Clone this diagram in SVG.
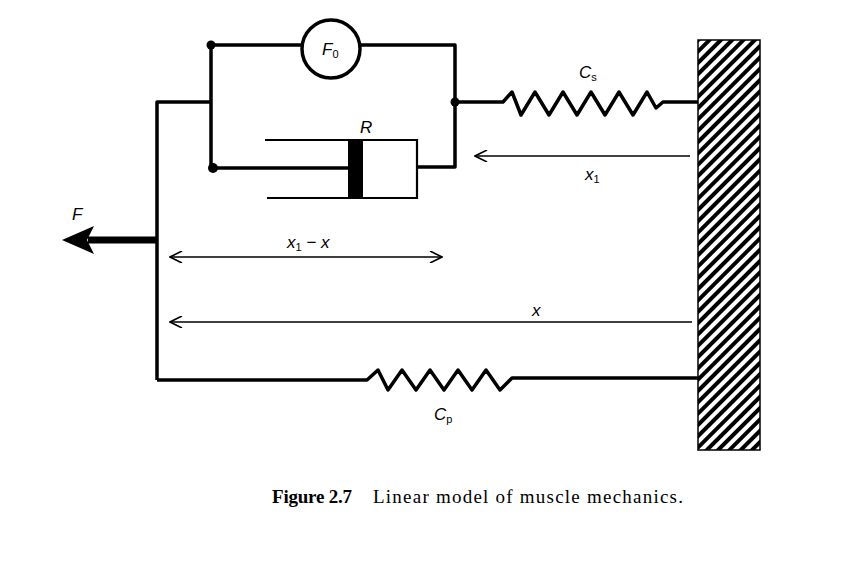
<svg xmlns="http://www.w3.org/2000/svg" width="857" height="565" viewBox="0 0 857 565">
<style>
.w{fill:none;stroke:#000;stroke-width:3.5;stroke-linejoin:round}
.t{fill:none;stroke:#000;stroke-width:1.6}
.lbl{font-family:"Liberation Sans",Arial,sans-serif;font-style:italic;font-size:17px;fill:#000}
.sub{font-size:11px;font-style:normal}
.cap{font-family:"Liberation Serif","Times New Roman",serif;font-size:19px;fill:#000}
</style>
<defs>
<pattern id="hatch" patternUnits="userSpaceOnUse" width="8" height="8" patternTransform="rotate(45)">
<rect width="8" height="8" fill="#fff"/><rect width="4" height="8" fill="#000"/>
</pattern>
<marker id="ah" markerWidth="14" markerHeight="12" refX="13" refY="6" orient="auto-start-reverse" markerUnits="userSpaceOnUse">
<path d="M1,0 L13,6 L1,12" fill="none" stroke="#000" stroke-width="1.6"/>
</marker>
</defs>
<rect width="857" height="565" fill="#fff"/>
<g id="wall"><rect x="698" y="40" width="62" height="410" fill="url(#hatch)" stroke="#000" stroke-width="1.5"/></g>
<g id="connectors">
<path class="w" d="M211,45 H301 M361,45 H455 V167 H417"/>
<path class="w" d="M211,45 V168 M157,380 V102 H211"/>
<path class="w" d="M213,168 H348"/>
<path class="w" d="M455,102 H503 L512,92 L521,115 L535,92 L549,115 L563,92 L577,115 L591,92 L605,115 L619,92 L633,115 L647,92 L656,108 L663,102 H698"/>
<path class="w" d="M157,380 H367 L378,370 L388,390 L402,370 L416,390 L430,370 L444,390 L458,370 L472,390 L486,370 L500,390 L512,378 H698"/>
<path d="M157,240 H88" stroke="#000" stroke-width="7" fill="none"/>
<path d="M62,240 L94,226 L87,240 L94,254 Z" fill="#000"/>
<path class="t" d="M690,156 H475" marker-end="url(#ah)"/>
<path class="t" d="M170,257 H442" marker-start="url(#ah)" marker-end="url(#ah)"/>
<path class="t" d="M692,322 H170" marker-end="url(#ah)"/>
</g>
<g id="dots">
<circle cx="211" cy="45" r="4.5"/><circle cx="213" cy="168" r="5"/><circle cx="455" cy="102" r="4.5"/>
</g>
<g id="F0"><circle cx="331" cy="49" r="29" fill="#fff" stroke="#000" stroke-width="3.5"/>
<text class="lbl" x="322" y="55">F<tspan class="sub" dy="3">0</tspan></text></g>
<g id="R">
<path d="M265,140 H417 V198 H267" fill="none" stroke="#000" stroke-width="2.2"/>
<rect x="348" y="140" width="15" height="58" fill="#000"/>
<text class="lbl" x="360" y="133">R</text>
</g>
<g id="labels">
<text class="lbl" x="579" y="78">C<tspan class="sub" dy="3">s</tspan></text>
<text class="lbl" x="585" y="180">x<tspan class="sub" dy="3">1</tspan></text>
<text class="lbl" x="72" y="220">F</text>
<text class="lbl" x="287" y="248">x<tspan class="sub" dy="3">1</tspan><tspan dy="-3"> − x</tspan></text>
<text class="lbl" x="532" y="316">x</text>
<text class="lbl" x="434" y="420">C<tspan class="sub" dy="3">p</tspan></text>
</g>
<text class="cap" y="503"><tspan x="272" font-weight="bold" textLength="80">Figure 2.7</tspan><tspan x="373" textLength="310">Linear model of muscle mechanics.</tspan></text>
</svg>
